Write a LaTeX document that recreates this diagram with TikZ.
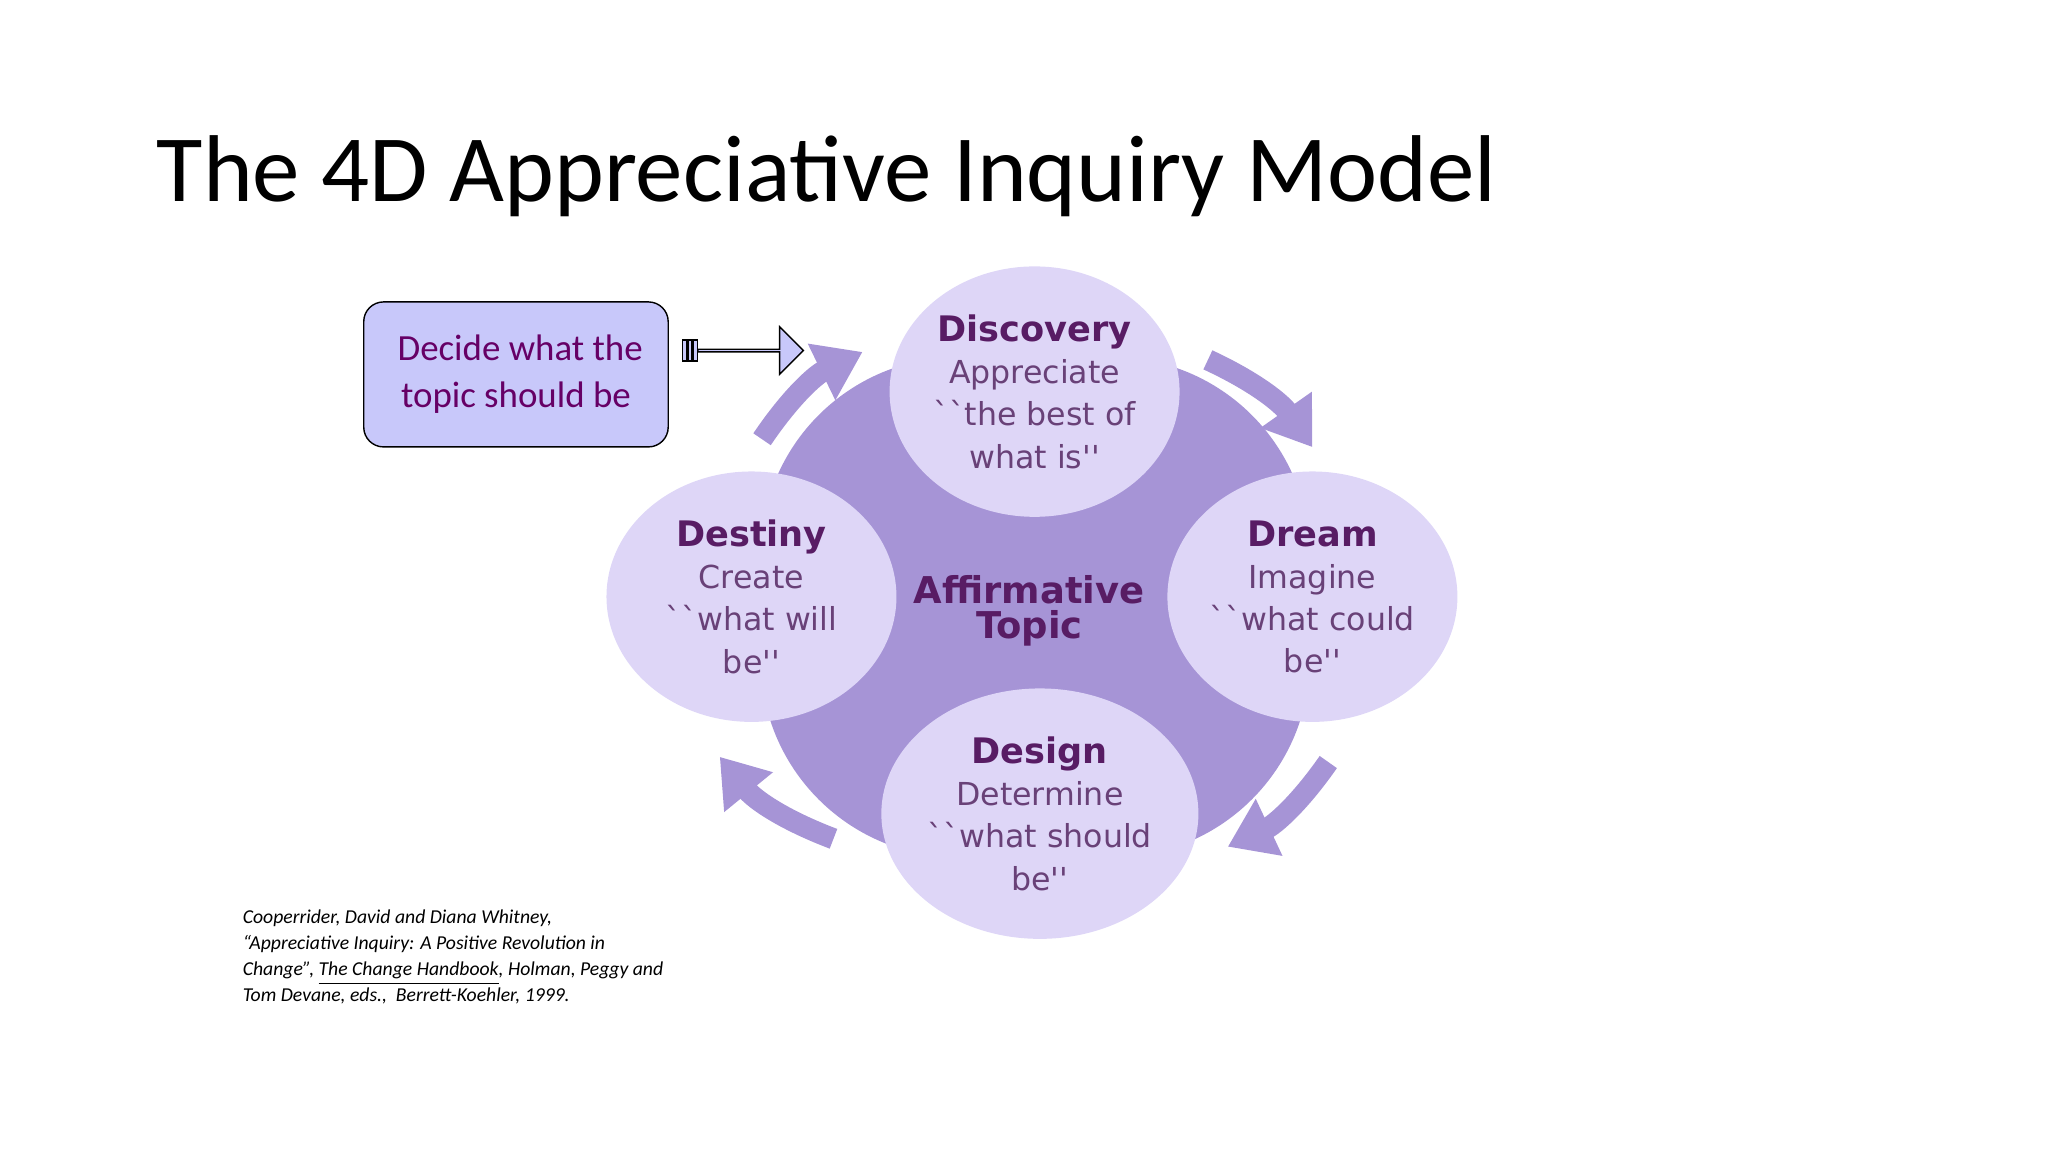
\documentclass[tikz,border=0pt]{standalone}
\usepackage{fontspec}
\setmainfont{Carlito}
\newfontfamily\verd{DejaVu Sans}
\usetikzlibrary{arrows.meta,shapes.arrows,shapes.geometric}
\definecolor{bigc}{RGB}{166,148,214}
\definecolor{smallc}{RGB}{222,214,247}
\definecolor{boxc}{RGB}{200,200,250}
\definecolor{ttl}{RGB}{88,28,100}
\definecolor{sub}{RGB}{105,65,120}
\definecolor{dtxt}{RGB}{102,0,102}
\newlength{\un}\setlength{\un}{0.375pt}
\newcommand{\ptl}[1]{{\verd\bfseries\color{ttl}\fontsize{10}{12}\selectfont #1}}
\newcommand{\psb}[1]{{\verd\color{sub}\fontsize{9}{11}\selectfont #1}}
\tikzset{
  phase/.style={ellipse,fill=smallc,minimum width=220\un,minimum height=190\un,align=center,inner sep=0pt},
  flow/.style={bigc,line width=6pt,-{Triangle[width=17pt,length=13pt]}},
}
\begin{document}
\begin{tikzpicture}[x=0.013229cm,y=-0.013229cm]
\useasboundingbox (0,0) rectangle (1548,870);
\node[anchor=base west,inner sep=0pt,font=\fontsize{27}{30}\selectfont] (title) at (118,152) {The 4D Appreciative Inquiry Model};
\fill[bigc,rounded corners=150\un] (575,270) -- (990,270) -- (990,648) -- (575,648) -- cycle;
\node[phase] (disc) at (782,296) {\ptl{Discovery}\\\psb{Appreciate}\\\psb{``the best of}\\\psb{what is''}};
\node[phase] (dest) at (568,451) {\ptl{Destiny}\\\psb{Create}\\\psb{``what will}\\\psb{be''}};
\node[phase] (dream) at (992,451) {\ptl{Dream}\\\psb{Imagine}\\\psb{``what could}\\\psb{be''}};
\node[phase] (design) at (786,615) {\ptl{Design}\\\psb{Determine}\\\psb{``what should}\\\psb{be''}};
\node[align=center,font=\verd\bfseries\fontsize{10.5}{10}\selectfont,text=ttl] (topic) at (778,462) {Affirmative\\Topic};
\node[draw=black,fill=boxc,rounded corners=15\un,minimum width=231\un,minimum height=110\un,align=center,text=dtxt,font=\fontsize{10.5}{13.5}\selectfont] (box) at (390,283) {\ Decide what the\\topic should be};
\node[single arrow,draw=black,fill=boxc,minimum height=80\un,minimum width=36\un,single arrow head extend=9\un,inner sep=0pt,anchor=tail] (arr) at (527,265) {};
\foreach \xx in {516,520,524}{\draw[fill=boxc,line width=0.4pt] (\xx,257) rectangle (\xx+3,273);}
\coordinate (a1s) at (576,332); \coordinate (a1e) at (652,266);
\coordinate (a2s) at (913,272); \coordinate (a2e) at (992,338);
\coordinate (a3s) at (1004,576); \coordinate (a3e) at (928,640);
\coordinate (a4s) at (630,634); \coordinate (a4e) at (544,572);
\draw[flow] (a1s) to[bend left=15] (a1e);
\draw[flow] (a2s) to[bend left=15] (a2e);
\draw[flow] (a3s) to[bend left=15] (a3e);
\draw[flow] (a4s) to[bend left=15] (a4e);
\node[anchor=north west,align=left,inner sep=0pt,font=\itshape\fontsize{5.6}{7.4}\selectfont] (cite) at (183,687) {Cooperrider, David and Diana Whitney,\\``Appreciative Inquiry: A Positive Revolution in\\Change'', \underline{The Change Handbook}, Holman, Peggy and\\Tom Devane, eds.,\ \ Berrett-Koehler, 1999.};
\end{tikzpicture}
\end{document}
